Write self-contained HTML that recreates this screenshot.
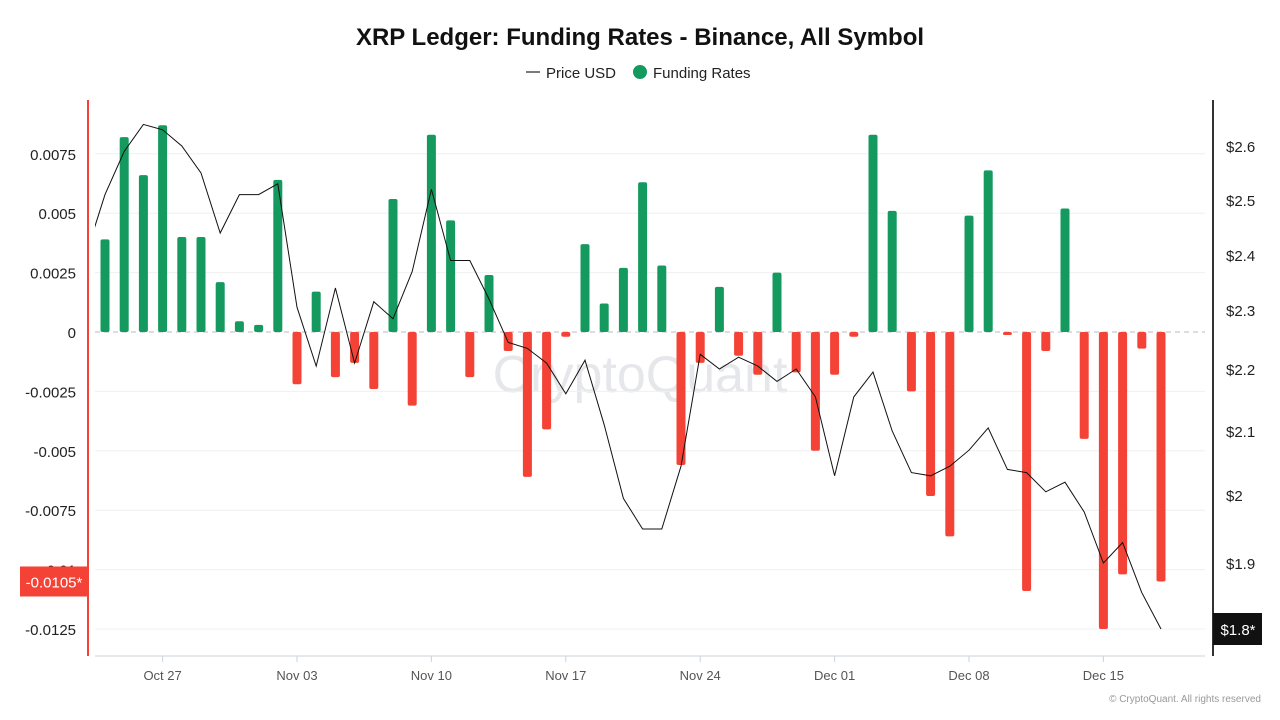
<!DOCTYPE html>
<html><head><meta charset="utf-8"><style>
html,body{margin:0;padding:0;background:#fff;}
svg{display:block;font-family:"Liberation Sans",sans-serif;}
</style></head><body>
<svg id="chart" width="1280" height="720" viewBox="0 0 1280 720">
<text x="640" y="45" text-anchor="middle" font-size="24" font-weight="bold" fill="#111">XRP Ledger: Funding Rates - Binance, All Symbol</text>
<g>
 <g><line x1="526" y1="72" x2="540" y2="72" stroke="#222" stroke-width="1.2"/><text x="546" y="78" font-size="15" fill="#222">Price USD</text></g>
 <g><circle cx="640" cy="72" r="7" fill="#149a5e"/><text x="653" y="78" font-size="15" fill="#222">Funding Rates</text></g>
</g>
<text x="640" y="392" text-anchor="middle" font-size="52" fill="#e6e7ea">CryptoQuant</text>
<g id="grid"></g><g id="bars"></g><g id="line"></g><g id="axes"></g>
<text x="1185" y="702" text-anchor="middle" font-size="10" fill="#999">© CryptoQuant. All rights reserved</text>
</svg>
<script>
const fundingRates=[0.0039,0.0082,0.0066,0.0087,0.0040,0.0040,0.0021,0.00045,0.0003,0.0064,-0.0022,0.0017,-0.0019,-0.0013,-0.0024,0.0056,-0.0031,0.0083,0.0047,-0.0019,0.0024,-0.0008,-0.0061,-0.0041,-0.0002,0.0037,0.0012,0.0027,0.0063,0.0028,-0.0056,-0.0013,0.0019,-0.0010,-0.0018,0.0025,-0.0017,-0.0050,-0.0018,-0.0002,0.0083,0.0051,-0.0025,-0.0069,-0.0086,0.0049,0.0068,-0.0001,-0.0109,-0.0008,0.0052,-0.0045,-0.0125,-0.0102,-0.0007,-0.0105];
const prevPrice=2.40;
const prices=[2.51,2.59,2.64,2.63,2.60,2.55,2.44,2.51,2.51,2.53,2.305,2.205,2.34,2.21,2.315,2.285,2.37,2.52,2.39,2.39,2.32,2.245,2.235,2.21,2.16,2.215,2.11,1.995,1.95,1.95,2.045,2.225,2.20,2.22,2.205,2.18,2.20,2.155,2.03,2.155,2.195,2.10,2.035,2.03,2.045,2.07,2.105,2.04,2.035,2.005,2.02,1.975,1.90,1.93,1.855,1.80];
const leftTicks=[0.0075,0.005,0.0025,0,-0.0025,-0.005,-0.0075,-0.01,-0.0125];
const leftTickLabels=["0.0075","0.005","0.0025","0","-0.0025","-0.005","-0.0075","-0.01","-0.0125"];
const rightTicks=[2.6,2.5,2.4,2.3,2.2,2.1,2,1.9,1.8];
const rightTickLabels=["$2.6","$2.5","$2.4","$2.3","$2.2","$2.1","$2","$1.9","$1.8"];
const dateLabels=["Oct 27","Nov 03","Nov 10","Nov 17","Nov 24","Dec 01","Dec 08","Dec 15"];
const dateIdx=[3,10,17,24,31,38,45,52];
const NS="http://www.w3.org/2000/svg";
function mk(t,a,p){const e=document.createElementNS(NS,t);for(const k in a)e.setAttribute(k,a[k]);p.appendChild(e);return e;}
function xS(i){return 105+19.2*i;}
function yL(v){return 332-v*23760;}
const pDom=[2.6,2.5,2.4,2.3,2.2,2.1,2.0,1.9,1.8],pRng=[146,200,255,310,369,431,495,563,629];
function yR(p){
 if(p>=pDom[0])return pRng[0]-(p-pDom[0])/(pDom[0]-pDom[1])*(pRng[1]-pRng[0]);
 for(let k=0;k<pDom.length-1;k++){if(p>=pDom[k+1]){const t=(pDom[k]-p)/(pDom[k]-pDom[k+1]);return pRng[k]+t*(pRng[k+1]-pRng[k]);}}
 return pRng[pRng.length-1]+(pDom[pDom.length-1]-p)/0.1*66;
}
const grid=document.getElementById('grid'),bars=document.getElementById('bars'),line=document.getElementById('line'),axes=document.getElementById('axes');
leftTicks.forEach((v,k)=>{
 const y=yL(v);
 const g=mk('line',{x1:95,x2:1205,y1:y,y2:y,stroke:v===0?'#bbb':'#f0f0f0','stroke-width':1,'stroke-dasharray':v===0?'5,4':''},grid);
 
 
 const t=mk('text',{x:76,y:y+6,'text-anchor':'end','font-size':15,fill:'#222'},axes);
 t.textContent=leftTickLabels[k];
 
 
});
fundingRates.forEach((v,i)=>{
 const x=xS(i),y0=yL(0),y1=yL(v);
 const h=Math.max(Math.abs(y1-y0),3);
 const r=mk('rect',{x:x-4.5,y:v>=0?y0-h:y0,width:9,height:h,rx:2,fill:v>=0?'#149a5e':'#f44336'},bars);
 
 
});
const defs=mk('defs',{},line);const cp=mk('clipPath',{id:'clip'},defs);mk('rect',{x:95,y:90,width:1110,height:570},cp);
let d='M'+xS(-1)+','+yR(prevPrice);
prices.forEach((p,i)=>{d+=' L'+xS(i)+','+yR(p).toFixed(1);});
const pl=mk('path',{d:d,fill:'none',stroke:'#111','stroke-width':1,'clip-path':'url(#clip)'},line);


const la=mk('line',{x1:88,x2:88,y1:100,y2:656,stroke:'#f44336','stroke-width':2},axes);


const ra=mk('line',{x1:1213,x2:1213,y1:100,y2:656,stroke:'#333','stroke-width':2},axes);


const xa=mk('line',{x1:95,x2:1205,y1:656,y2:656,stroke:'#ccd3da','stroke-width':1},axes);


rightTicks.forEach((p,k)=>{
 if(k===rightTicks.length-1)return;
 const t=mk('text',{x:1226,y:yR(p)+6,'font-size':15,fill:'#222'},axes);
 t.textContent=rightTickLabels[k];
 
 
});
dateLabels.forEach((s,k)=>{
 const x=xS(dateIdx[k]);
 const tk=mk('line',{x1:x,x2:x,y1:656,y2:662,stroke:'#ccd3da'},axes);
 
 
 const t=mk('text',{x:x,y:680,'text-anchor':'middle','font-size':13,fill:'#555'},axes);
 t.textContent=s;
 
 
});
const lastV=fundingRates[fundingRates.length-1];
const lb=mk('g',{},axes);


mk('rect',{x:20,y:yL(lastV)-15,width:68,height:30,fill:'#f44336'},lb);
const lt=mk('text',{x:54,y:yL(lastV)+6,'text-anchor':'middle','font-size':15,fill:'#fff'},lb);lt.textContent=lastV+'*';
const lastP=prices[prices.length-1];
const pb=mk('g',{},axes);


mk('rect',{x:1213,y:yR(lastP)-16,width:49,height:32,fill:'#111'},pb);
const pt=mk('text',{x:1238,y:yR(lastP)+6,'text-anchor':'middle','font-size':15,fill:'#fff'},pb);pt.textContent='$'+lastP.toFixed(1)+'*';
</script>
</body></html>
